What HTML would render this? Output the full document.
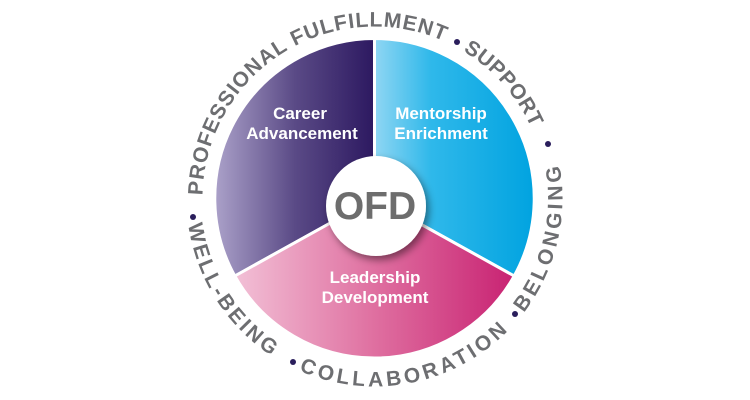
<!DOCTYPE html>
<html><head><meta charset="utf-8"><style>
html,body{margin:0;padding:0;background:#fff;width:750px;height:400px;overflow:hidden}
svg{display:block}
</style></head><body>
<svg width="750" height="400" viewBox="0 0 750 400" xmlns="http://www.w3.org/2000/svg">
<defs>
<linearGradient id="gp" x1="215" y1="0" x2="375" y2="0" gradientUnits="userSpaceOnUse"><stop offset="0" stop-color="#aba1c9"/><stop offset="0.5" stop-color="#5a4a86"/><stop offset="1" stop-color="#2c1860"/></linearGradient>
<linearGradient id="gb" x1="375" y1="0" x2="535" y2="0" gradientUnits="userSpaceOnUse"><stop offset="0" stop-color="#8fd6f3"/><stop offset="0.35" stop-color="#2fb8ea"/><stop offset="1" stop-color="#00a3e0"/></linearGradient>
<linearGradient id="gk" x1="235" y1="0" x2="515" y2="0" gradientUnits="userSpaceOnUse"><stop offset="0" stop-color="#f2c0d6"/><stop offset="0.5" stop-color="#df6fa0"/><stop offset="1" stop-color="#c82272"/></linearGradient>
<filter id="sh" x="-30%" y="-30%" width="160%" height="160%"><feDropShadow dx="3" dy="4" stdDeviation="4" flood-color="#000" flood-opacity="0.45"/></filter>
<path id="cw" d="M 202.5 198.5 A 172 172 0 0 1 546.5 198.5 A 172 172 0 0 1 202.5 198.5"/>
<path id="ccw" d="M 186.5 198.5 A 188 188 0 0 0 562.5 198.5 A 188 188 0 0 0 186.5 198.5"/>
</defs>
<path d="M374.5 198.5 L374.5 38.5 A160 160 0 0 0 234.8 276 Z" fill="url(#gp)" stroke="#fff" stroke-width="3" stroke-linejoin="round"/>
<path d="M374.5 198.5 L374.5 38.5 A160 160 0 0 1 514.2 276 Z" fill="url(#gb)" stroke="#fff" stroke-width="3" stroke-linejoin="round"/>
<path d="M374.5 198.5 L514.2 276 A160 160 0 0 1 234.8 276 Z" fill="url(#gk)" stroke="#fff" stroke-width="3" stroke-linejoin="round"/>
<circle cx="376" cy="206" r="50" fill="#fff" filter="url(#sh)"/>
<text x="375" y="219" text-anchor="middle" font-family="Liberation Sans, sans-serif" font-weight="bold" font-size="39" fill="#6d6d6d">OFD</text>
<g font-family="Liberation Sans, sans-serif" font-weight="bold" font-size="17" fill="#fff" text-anchor="middle">
<text x="300" y="119">Career</text>
<text x="302" y="139">Advancement</text>
<text x="441" y="119">Mentorship</text>
<text x="441" y="139">Enrichment</text>
<text x="375" y="283">Leadership</text>
<text x="375" y="303">Development</text>
</g>
<g font-family="Liberation Sans, sans-serif" font-weight="bold" font-size="21" fill="#6d6e71">
<text><textPath href="#cw" startOffset="0.3%" textLength="338" lengthAdjust="spacing">PROFESSIONAL FULFILLMENT</textPath></text>
<text><textPath href="#cw" startOffset="33.6%" textLength="104" lengthAdjust="spacing">SUPPORT</textPath></text>
<text><textPath href="#ccw" startOffset="2.2%" textLength="160" lengthAdjust="spacing">WELL-BEING</textPath></text>
<text><textPath href="#ccw" startOffset="18.4%" textLength="226" lengthAdjust="spacing">COLLABORATION</textPath></text>
<text><textPath href="#ccw" startOffset="39.6%" textLength="156" lengthAdjust="spacing">BELONGING</textPath></text>
</g>
<g fill="#2a1e5c">
<circle cx="457" cy="42" r="3"/>
<circle cx="548" cy="144" r="3"/>
<circle cx="515" cy="314" r="3"/>
<circle cx="293" cy="362" r="3"/>
<circle cx="193" cy="217" r="3"/>
</g>
</svg>
</body></html>
